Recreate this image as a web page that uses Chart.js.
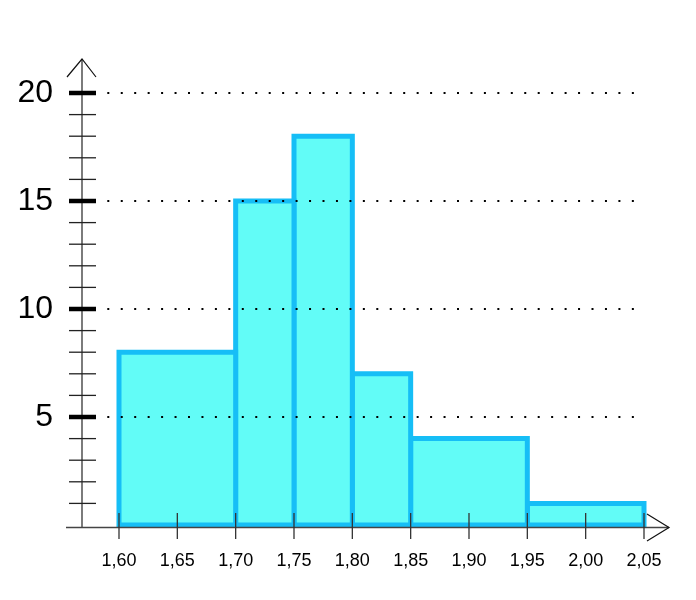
<!DOCTYPE html>
<html><head><meta charset="utf-8">
<script src="https://cdn.jsdelivr.net/npm/chart.js@4/dist/chart.umd.min.js"></script>
<style>html,body{margin:0;padding:0;background:#fff}#wrap{width:696px;height:600px}</style>
</head><body><div id="wrap"><canvas id="c"></canvas></div>
<script>
const binEdges = [1.60, 1.70, 1.75, 1.80, 1.85, 1.95, 2.05];
const counts = [8, 15, 18, 7, 4, 1];
const xTickValues = [1.60, 1.65, 1.70, 1.75, 1.80, 1.85, 1.90, 1.95, 2.00, 2.05];
const xTickLabels = ['1,60', '1,65', '1,70', '1,75', '1,80', '1,85', '1,90', '1,95', '2,00', '2,05'];
const yMajorTicks = [5, 10, 15, 20];
const yMinorTicks = [1, 2, 3, 4, 6, 7, 8, 9, 11, 12, 13, 14, 16, 17, 18, 19];

const BORDER = '#16bef6';
const FILL = '#62fcf7';

const baseline = {
  data: [{x: binEdges[0], y: 0}, {x: binEdges[binEdges.length - 1], y: 0}],
  borderColor: BORDER,
  borderWidth: 5,
  fill: false,
  pointRadius: 0,
  clip: false
};

const bars = counts.map((h, i) => ({
  data: [
    {x: binEdges[i], y: 0},
    {x: binEdges[i], y: h},
    {x: binEdges[i + 1], y: h},
    {x: binEdges[i + 1], y: 0}
  ],
  borderColor: BORDER,
  backgroundColor: FILL,
  borderWidth: 5,
  borderJoinStyle: 'miter',
  borderCapStyle: 'square',
  fill: 'origin',
  pointRadius: 0,
  tension: 0,
  clip: false
}));

const axesPlugin = {
  id: 'axesPlugin',
  afterDatasetsDraw(chart) {
    const ctx = chart.ctx;
    const xs = chart.scales.x, ys = chart.scales.y;
    const a = chart.chartArea;
    const axX = a.left;
    const axY = a.bottom + 2.5;
    ctx.save();
    // dotted grid lines
    ctx.strokeStyle = '#000';
    ctx.lineWidth = 2;
    ctx.setLineDash([2, 11.45]);
    yMajorTicks.forEach(v => {
      const py = Math.round(ys.getPixelForValue(v));
      ctx.beginPath();
      ctx.moveTo(a.left + 25.3, py);
      ctx.lineTo(a.left + 553, py);
      ctx.stroke();
    });
    ctx.setLineDash([]);
    // y axis line
    ctx.strokeStyle = '#444';
    ctx.lineWidth = 1.4;
    ctx.beginPath();
    ctx.moveTo(axX, axY);
    ctx.lineTo(axX, a.top);
    ctx.stroke();
    // x axis line
    ctx.beginPath();
    ctx.moveTo(a.left - 16, axY);
    ctx.lineTo(a.right, axY);
    ctx.stroke();
    // arrows
    ctx.strokeStyle = '#111';
    ctx.lineWidth = 1.2;
    ctx.beginPath();
    ctx.moveTo(axX - 15, a.top + 18);
    ctx.lineTo(axX, a.top);
    ctx.lineTo(axX + 14, a.top + 18);
    ctx.stroke();
    ctx.beginPath();
    ctx.moveTo(a.right - 22, axY - 13.5);
    ctx.lineTo(a.right, axY);
    ctx.lineTo(a.right - 22, axY + 13.5);
    ctx.stroke();
    // y minor ticks
    ctx.strokeStyle = '#222';
    ctx.lineWidth = 1.3;
    yMinorTicks.forEach(v => {
      const py = ys.getPixelForValue(v);
      ctx.beginPath();
      ctx.moveTo(axX - 13, py);
      ctx.lineTo(axX + 14, py);
      ctx.stroke();
    });
    // y major ticks
    ctx.strokeStyle = '#000';
    ctx.lineWidth = 4.5;
    yMajorTicks.forEach(v => {
      const py = ys.getPixelForValue(v);
      ctx.beginPath();
      ctx.moveTo(axX - 13, py);
      ctx.lineTo(axX + 14, py);
      ctx.stroke();
    });
    // x ticks
    ctx.strokeStyle = '#333';
    ctx.lineWidth = 1.3;
    xTickValues.forEach(v => {
      const px = xs.getPixelForValue(v);
      ctx.beginPath();
      ctx.moveTo(px, axY - 14.5);
      ctx.lineTo(px, axY + 11.5);
      ctx.stroke();
    });
    ctx.restore();
  }
};

new Chart(document.getElementById('c'), {
  type: 'line',
  data: { datasets: [baseline, ...bars] },
  plugins: [axesPlugin],
  options: {
    responsive: true,
    maintainAspectRatio: false,
    animation: false,
    events: [],
    layout: { padding: { left: 0, right: 27, top: 59, bottom: 0 } },
    plugins: { legend: { display: false }, tooltip: { enabled: false } },
    scales: {
      x: {
        type: 'linear',
        min: 1.56829,
        max: 2.07143,
        grid: { display: false, drawTicks: false },
        border: { display: false },
        afterFit(s) { s.height = 75; },
        afterBuildTicks(s) { s.ticks = xTickValues.map(v => ({ value: v })); },
        ticks: {
          padding: 25,
          maxRotation: 0,
          autoSkip: false,
          color: '#000',
          font: { family: '"Liberation Sans", Arial, sans-serif', size: 18 },
          callback: (v) => { const i = xTickValues.findIndex(t => Math.abs(t - v) < 1e-6); return i >= 0 ? xTickLabels[i] : ''; }
        }
      },
      y: {
        type: 'linear',
        min: 0,
        max: 21.574,
        grid: { display: false, drawTicks: false },
        border: { display: false },
        afterFit(s) { s.width = 82; },
        afterBuildTicks(s) { s.ticks = yMajorTicks.map(v => ({ value: v })); },
        ticks: {
          padding: 29,
          color: '#000',
          font: { family: '"Liberation Sans", Arial, sans-serif', size: 32 },
          callback: (v) => String(v)
        }
      }
    }
  }
});
</script>
</body></html>
